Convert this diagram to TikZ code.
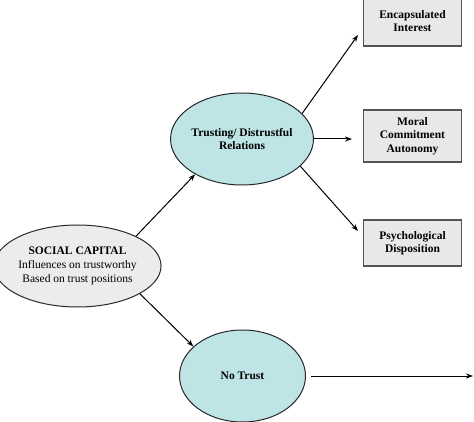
\documentclass[tikz,border=0pt]{standalone}
\usepackage{fontspec}
\setmainfont{Liberation Serif}
\usetikzlibrary{shapes.geometric,arrows.meta}
\definecolor{tealfill}{RGB}{190,228,229}
\definecolor{greyfill}{RGB}{236,236,236}
\definecolor{boxfill}{RGB}{232,232,232}
\definecolor{edgecol}{RGB}{40,40,40}
\tikzset{
  blueell/.style={ellipse, draw=edgecol, line width=1pt, fill=tealfill, inner sep=0pt,
    minimum width=126pt, minimum height=92pt, align=center,
    font=\fontsize{11.5}{13.5}\selectfont\bfseries},
  greyell/.style={ellipse, draw=edgecol, line width=1pt, fill=greyfill, inner sep=0pt,
    minimum width=156pt, minimum height=82pt, align=center,
    font=\fontsize{11.5}{14}\selectfont},
  rbox/.style={rectangle, draw=edgecol!80, line width=1.3pt, fill=boxfill, inner sep=0pt,
    minimum width=98pt, align=center,
    font=\fontsize{11.5}{13.5}\selectfont\bfseries},
  arr/.style={-{Stealth[length=7pt,width=5pt]}, line width=1pt, draw=black},
}
\begin{document}
\begin{tikzpicture}[x=1pt,y=-1pt]
\useasboundingbox (0,0) rectangle (474,422);
\node[rbox, minimum height=50pt] (enc) at (412.5,21) {Encapsulated\\Interest};
\node[rbox, minimum height=52pt] (mor) at (412.5,136) {Moral\\Commitment\\Autonomy};
\node[rbox, minimum height=46pt] (psy) at (412.5,243) {Psychological\\Disposition};
\node[blueell] (tr) at (242,139) {Trusting/ Distrustful\\Relations};
\node[greyell] (sc) at (77.5,266) {\textbf{SOCIAL CAPITAL}\\Influences on trustworthy\\Based on trust positions};
\node[blueell] (nt) at (242.5,376) {No Trust};
\coordinate (encin) at (358,35);
\coordinate (morin) at (352,139);
\coordinate (psyin) at (358,231);
\coordinate (ntout) at (473,376);
\draw[arr] (sc.27) -- (tr.217);
\draw[arr] (sc.-24) -- (nt.149);
\draw[arr] (tr.23) -- (encin);
\draw[arr] (tr.east) -- (morin);
\draw[arr] (tr.-25) -- (psyin);
\draw[arr, shorten <=5pt] (nt.east) -- (ntout);
\end{tikzpicture}
\end{document}
